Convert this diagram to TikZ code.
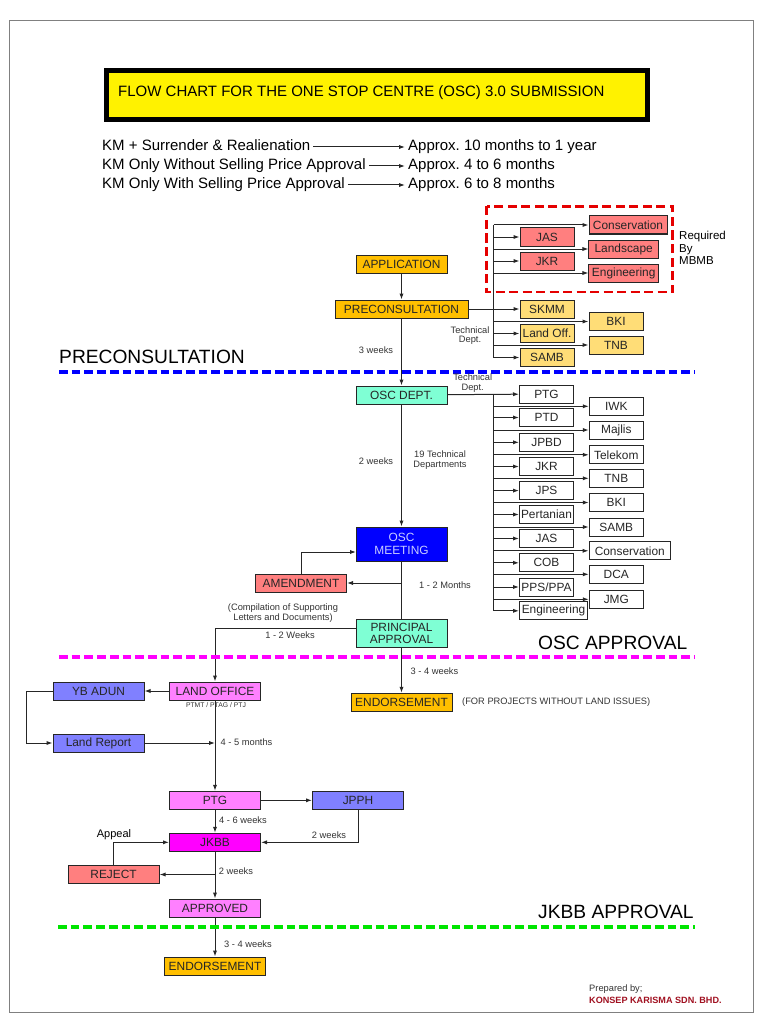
\documentclass[tikz,border=0pt]{standalone}
\usepackage{fontspec}
\setmainfont{Liberation Sans}
\frenchspacing
\usetikzlibrary{arrows.meta}
\definecolor{orangefill}{HTML}{FFBF00}
\definecolor{paleorange}{HTML}{FFDD77}
\definecolor{salmonfill}{HTML}{FF7F7F}
\definecolor{aquafill}{HTML}{7FFFD4}
\definecolor{pinkfill}{HTML}{FF80FF}
\definecolor{violetfill}{HTML}{8080FF}
\definecolor{purefuchsia}{HTML}{FF00FF}
\definecolor{meetingtext}{HTML}{C8CCFF}
\definecolor{karisma}{HTML}{A01020}
\definecolor{framegray}{HTML}{808080}
\tikzset{
  flowbox/.style={draw=black!85,line width=1pt,inner sep=0pt,minimum height=18pt,minimum width=54pt,align=center,text=black!85,font=\fontsize{11.9}{12.5}\selectfont},
  wide/.style={flowbox,minimum width=91pt},
  arr/.style={-{Latex[length=6pt,width=4.2pt]},line width=1pt,black!85},
  conn/.style={line width=1pt,black!85},
  phase/.style={line width=4pt,dash pattern=on 8.7pt off 4pt},
  note/.style={inner sep=0pt,align=center,text=black!80,font=\fontsize{9.3}{9.6}\selectfont},
  section/.style={inner sep=0pt,anchor=west,font=\fontsize{19.2}{20}\selectfont},
  rowtext/.style={inner xsep=3pt,inner ysep=0pt,anchor=west,text height=11pt,text depth=3pt,font=\fontsize{15}{15}\selectfont}
}
\begin{document}
\begin{tikzpicture}[x=1pt,y=-1pt]
  \useasboundingbox (0,0) rectangle (768,1024);
  \draw[framegray,line width=1pt] (9.5,20.5) rectangle (753,1012);
  \node[draw=black,line width=5pt,fill=yellow,minimum width=541pt,minimum height=49pt,inner sep=0pt] (titlebox) at (377,95) {};
  \node[inner sep=0pt,anchor=west,font=\fontsize{15}{15}\selectfont] (titletext) at (118,93) {FLOW CHART FOR THE ONE STOP CENTRE (OSC) 3.0 SUBMISSION};

  \node[rowtext] (kmA) at (99,147) {KM + Surrender \& Realienation};
  \node[rowtext] (kmB) at (99,166) {KM Only Without Selling Price Approval};
  \node[rowtext] (kmC) at (99,185) {KM Only With Selling Price Approval};
  \node[rowtext] (timeA) at (405,147) {Approx. 10 months to 1 year};
  \node[rowtext] (timeB) at (405,166) {Approx. 4 to 6 months};
  \node[rowtext] (timeC) at (405,185) {Approx. 6 to 8 months};
  \draw[arr] (kmA) -- (timeA);
  \draw[arr] (kmB) -- (timeB);
  \draw[arr] (kmC) -- (timeC);

  \node[wide,fill=orangefill] (application) at (401.5,264.5) {APPLICATION};
  \node[flowbox,fill=orangefill,minimum width=133pt] (preconsult) at (401.5,309) {PRECONSULTATION};
  \node[wide,fill=aquafill] (oscdept) at (401.5,395) {OSC DEPT.};
  \node[wide,fill=blue,minimum height=34pt,text=meetingtext] (meeting) at (401.5,544) {OSC\\MEETING};
  \node[wide,fill=salmonfill] (amendment) at (301,583) {AMENDMENT};
  \node[wide,fill=aquafill,minimum height=28.5pt] (principal) at (401.5,633.5) {PRINCIPAL\\APPROVAL};
  \node[flowbox,fill=orangefill,minimum width=101pt] (endorseA) at (401.5,702.3) {ENDORSEMENT};

  \node[wide,fill=pinkfill] (landoffice) at (215,691) {LAND OFFICE};
  \node[wide,fill=violetfill] (ybadun) at (98.5,691) {YB ADUN};
  \node[wide,fill=violetfill] (landreport) at (98.5,743) {Land Report};
  \node[wide,fill=pinkfill] (ptgfinal) at (215,800.3) {PTG};
  \node[wide,fill=violetfill] (jpph) at (358,800.3) {JPPH};
  \node[wide,fill=purefuchsia] (jkbb) at (215,842.3) {JKBB};
  \node[wide,fill=salmonfill] (reject) at (113.6,874.5) {REJECT};
  \node[wide,fill=pinkfill] (approved) at (215,908) {APPROVED};
  \node[flowbox,fill=orangefill,minimum width=101pt] (endorseB) at (215,966) {ENDORSEMENT};

  \node[flowbox,fill=salmonfill,minimum width=78pt] (consA) at (628,225) {Conservation};
  \node[flowbox,fill=salmonfill] (jasA) at (547,237) {JAS};
  \node[flowbox,fill=salmonfill,minimum width=69.5pt] (landscape) at (623.7,249) {Landscape};
  \node[flowbox,fill=salmonfill] (jkrA) at (547,261) {JKR};
  \node[flowbox,fill=salmonfill,minimum width=69.5pt] (engA) at (623.7,273) {Engineering};
  \node[flowbox,fill=paleorange] (skmm) at (547,309) {SKMM};
  \node[flowbox,fill=paleorange] (bkiA) at (616,321.5) {BKI};
  \node[flowbox,fill=paleorange] (landoff) at (547,333.5) {Land Off.};
  \node[flowbox,fill=paleorange] (tnbA) at (616,345) {TNB};
  \node[flowbox,fill=paleorange] (sambA) at (547,357.5) {SAMB};

  \node[flowbox] (ptg) at (546.5,394) {PTG};
  \node[flowbox] (iwk) at (616.3,406.3) {IWK};
  \node[flowbox] (ptd) at (546.5,417.5) {PTD};
  \node[flowbox] (majlis) at (616.3,430) {Majlis};
  \node[flowbox] (jpbd) at (546.5,442.3) {JPBD};
  \node[flowbox] (telekom) at (616.3,454.8) {Telekom};
  \node[flowbox] (jkrB) at (546.5,466.5) {JKR};
  \node[flowbox] (tnbB) at (616.3,478.3) {TNB};
  \node[flowbox] (jps) at (546.5,490.6) {JPS};
  \node[flowbox] (bkiB) at (616.3,502.5) {BKI};
  \node[flowbox] (pertanian) at (546.5,514.5) {Pertanian};
  \node[flowbox] (sambB) at (616.3,527) {SAMB};
  \node[flowbox] (jasB) at (546.5,538.5) {JAS};
  \node[flowbox,minimum width=81.5pt] (consB) at (629.8,550.8) {Conservation};
  \node[flowbox] (cob) at (546.5,562.8) {COB};
  \node[flowbox] (dca) at (616.3,574.3) {DCA};
  \node[flowbox] (pps) at (546.5,587) {PPS/PPA};
  \node[flowbox] (jmg) at (616.3,599.3) {JMG};
  \node[flowbox,minimum width=68pt] (engB) at (553.5,610.8) {Engineering};

  \coordinate (busA) at (493.7,225);
  \coordinate (busB) at (493.7,394);
  \coordinate (turnA) at (402,583);
  \coordinate (turnB) at (215,874.5);
  \coordinate (exitP) at (356,628.3);
  \coordinate (entryM) at (356,552);

  \draw[arr] (application) -- (preconsult);
  \draw[arr] (preconsult) -- (oscdept);
  \draw[arr] (oscdept) -- (meeting);
  \draw[conn] (meeting) -- (principal);
  \draw[arr] (principal) -- (endorseA);
  \draw[arr] (turnA) -- (amendment);
  \draw[arr] (amendment.north) |- (entryM);
  \draw[arr] (exitP) -| (landoffice.north);
  \draw[arr] (landoffice) -- (ybadun);
  \draw[arr] (ybadun.west) -- ++(-26.5,0) |- (landreport.west);
  \draw[arr] (landreport.east) -- (landreport.east -| landoffice);
  \draw[arr] (landoffice) -- (ptgfinal);
  \draw[arr] (ptgfinal) -- (jpph);
  \draw[arr] (ptgfinal) -- (jkbb);
  \draw[arr] (jpph.south) |- (jkbb.east);
  \draw[arr] (reject.north) |- (jkbb.west);
  \draw[arr] (turnB) -- (reject);
  \draw[arr] (jkbb) -- (approved);
  \draw[arr] (approved) -- (endorseB);

  \draw[conn] (busA) -- (busA |- sambA);
  \draw[arr] (busA) -- (consA);
  \draw[arr] (busA |- jasA) -- (jasA);
  \draw[arr] (busA |- landscape) -- (landscape);
  \draw[arr] (busA |- jkrA) -- (jkrA);
  \draw[arr] (busA |- engA) -- (engA);
  \draw[arr] (preconsult) -- (skmm);
  \draw[arr] (busA |- bkiA) -- (bkiA);
  \draw[arr] (busA |- landoff) -- (landoff);
  \draw[arr] (busA |- tnbA) -- (tnbA);
  \draw[arr] (busA |- sambA) -- (sambA);

  \draw[conn] (busB) -- (busB |- engB);
  \draw[arr] (oscdept) -- (ptg);
  \draw[arr] (busB |- iwk) -- (iwk);
  \draw[arr] (busB |- ptd) -- (ptd);
  \draw[arr] (busB |- majlis) -- (majlis);
  \draw[arr] (busB |- jpbd) -- (jpbd);
  \draw[arr] (busB |- telekom) -- (telekom);
  \draw[arr] (busB |- jkrB) -- (jkrB);
  \draw[arr] (busB |- tnbB) -- (tnbB);
  \draw[arr] (busB |- jps) -- (jps);
  \draw[arr] (busB |- bkiB) -- (bkiB);
  \draw[arr] (busB |- pertanian) -- (pertanian);
  \draw[arr] (busB |- sambB) -- (sambB);
  \draw[arr] (busB |- jasB) -- (jasB);
  \draw[arr] (busB |- consB) -- (consB);
  \draw[arr] (busB |- cob) -- (cob);
  \draw[arr] (busB |- dca) -- (dca);
  \draw[arr] (busB |- pps) -- (pps);
  \draw[arr] (busB |- jmg) -- (jmg);
  \draw[arr] (busB |- engB) -- (engB);

  \draw[red!90!black,line width=2.6pt,dash pattern=on 9pt off 4.5pt] (486.5,206.5) rectangle (672.5,292);
  \draw[phase,blue] (59,372) -- (695,372);
  \draw[phase,purefuchsia] (59,657.3) -- (695,657.3);
  \draw[phase,green!90!black] (58,926.7) -- (695,926.7);

  \node[section] (phaseA) at (59,357) {PRECONSULTATION};
  \node[section] (phaseB) at (538,643) {OSC APPROVAL};
  \node[section] (phaseC) at (538,912) {JKBB APPROVAL};

  \node[inner sep=0pt,anchor=west,align=left,font=\fontsize{11.5}{12.5}\selectfont] (mbmb) at (679,248) {Required\\By\\MBMB};
  \node[note] (techA) at (470,335.5) {Technical\\Dept.};
  \node[note] (techB) at (472.7,383) {Technical\\Dept.};
  \node[note] (weeksA) at (376,350) {3 weeks};
  \node[note] (weeksB) at (376,461) {2 weeks};
  \node[note] (nineteen) at (440,460) {19 Technical\\Departments};
  \node[note] (months) at (445,585) {1 - 2 Months};
  \node[note] (compile) at (283,613) {(Compilation of Supporting\\Letters and Documents)};
  \node[note] (weeksC) at (290,635) {1 - 2 Weeks};
  \node[note] (weeksD) at (434.5,671) {3 - 4 weeks};
  \node[note,anchor=west] (noland) at (462,702) {(FOR PROJECTS WITHOUT LAND ISSUES)};
  \node[note,font=\fontsize{6.8}{7}\selectfont] (ptmt) at (216,705.5) {PTMT / PTAG / PTJ};
  \node[note] (monthsB) at (246.5,742) {4 - 5 months};
  \node[note] (weeksE) at (243,820) {4 - 6 weeks};
  \node[note] (weeksF) at (329,835) {2 weeks};
  \node[note] (weeksG) at (236,871.5) {2 weeks};
  \node[note] (weeksH) at (248,944) {3 - 4 weeks};
  \node[inner sep=0pt,font=\fontsize{11}{12}\selectfont] (appeal) at (114,834.5) {Appeal};
  \node[note,anchor=west] (prepared) at (589,989) {Prepared by;};
  \node[inner sep=0pt,anchor=west,text=karisma,font=\bfseries\fontsize{9.1}{10}\selectfont] (company) at (589,1000) {KONSEP KARISMA SDN. BHD.};
\end{tikzpicture}
\end{document}
